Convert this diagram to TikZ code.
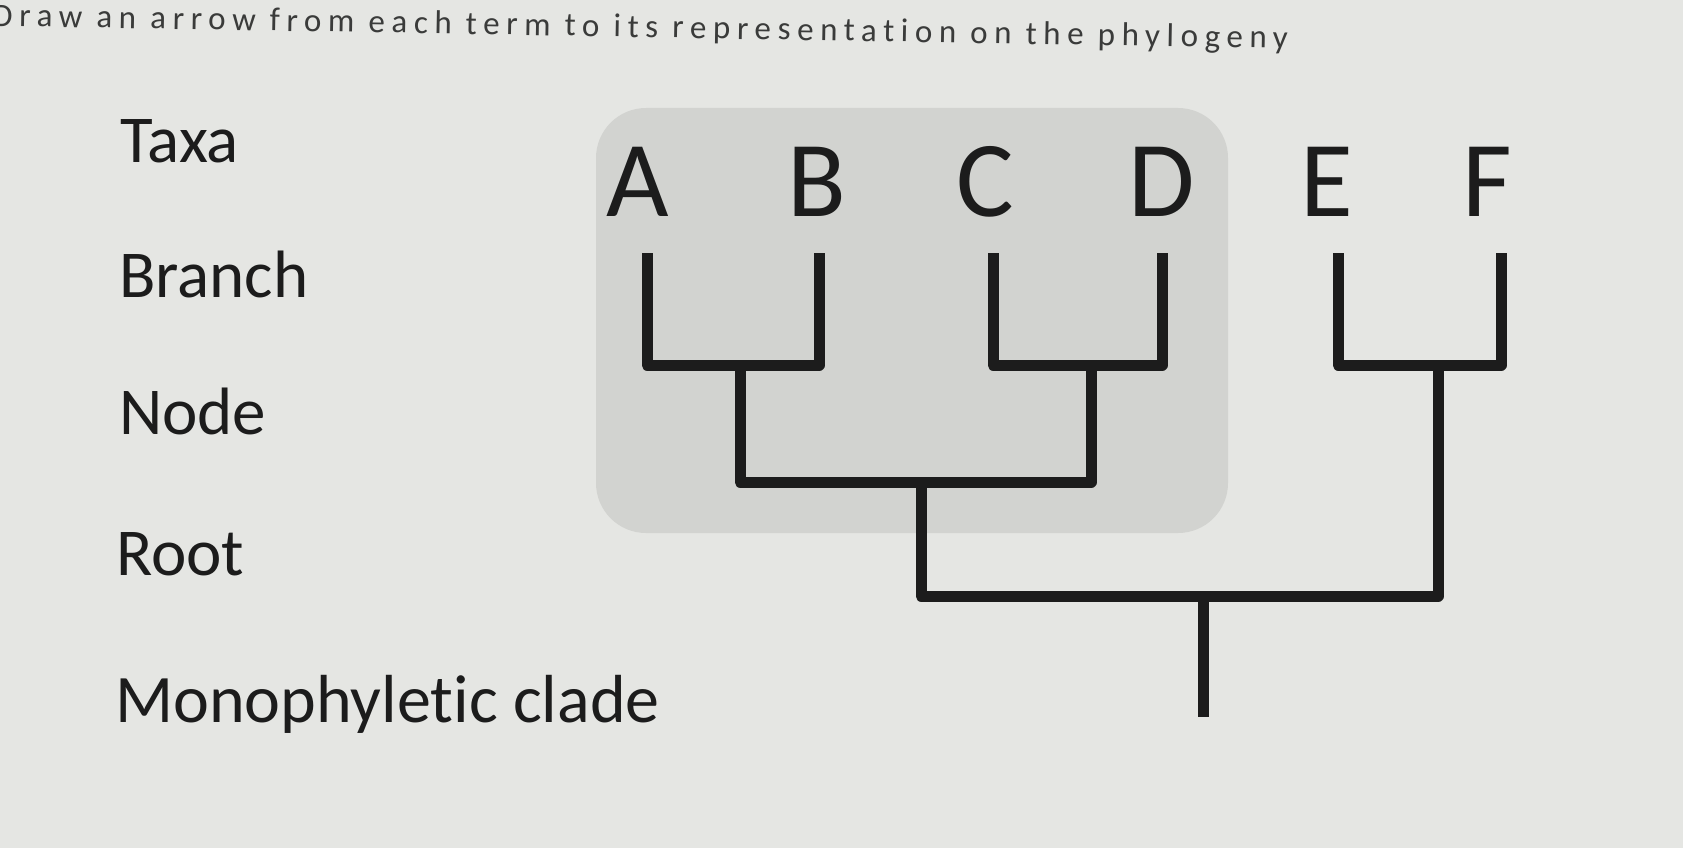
\documentclass[tikz,border=0pt]{standalone}
\usepackage{fontspec}
\setmainfont{Carlito}[Ligatures=NoCommon]
\newfontfamily\spacedfont{Carlito}[LetterSpace=20, Ligatures=NoCommon]
\usetikzlibrary{positioning}
\definecolor{paper}{HTML}{E5E6E3}
\definecolor{cladebg}{HTML}{D2D3D0}
\definecolor{ink}{HTML}{1C1C1C}
\definecolor{printgray}{HTML}{3A3B3A}

\begin{document}
\begin{tikzpicture}[
    x=1pt, y=-1pt,
    term/.style={anchor=base west, inner sep=0pt, text=ink, font=\fontsize{67}{72}\selectfont},
    taxon/.style={anchor=base, inner sep=0pt, text=ink, font=\fontsize{108}{120}\selectfont},
    branch/.style={ink, line width=11pt, line join=round}
  ]
    \fill[paper] (0,0) rectangle (1683,848);
    \useasboundingbox (0,0) rectangle (1683,848);
    % shaded clade A--D
    \fill[cladebg, rounded corners=50pt] (596,108) rectangle (1228,533);

    \node[anchor=base west, inner sep=0pt, rotate=-1.0, text=printgray,
      font=\spacedfont\fontsize{33}{38}\selectfont] (title) at (-8,26)
      {Draw an arrow from each term to its representation on the phylogeny};

    % terms
    \node[term] (taxa) at (120,162) {Taxa};
    \node[term] (branchlbl) at (119,297) {Branch};
    \node[term] (nodelbl) at (119,434) {Node};
    \node[term] (rootlbl) at (116,575) {Root};
    \node[term, font=\fontsize{68}{74}\selectfont] (clade) at (115,722) {Monophyletic clade};

    % taxa
    \node[taxon] (A) at (638,216) {A};
    \node[taxon] (B) at (817,216) {B};
    \node[taxon] (C) at (985,216) {C};
    \node[taxon] (D) at (1162,216) {D};
    \node[taxon] (E) at (1327,216) {E};
    \node[taxon] (F) at (1487,216) {F};

    % tips and internal nodes
    \coordinate (tA) at (647,253);
    \coordinate (tB) at (819,253);
    \coordinate (tC) at (993,253);
    \coordinate (tD) at (1162,253);
    \coordinate (tE) at (1338,253);
    \coordinate (tF) at (1501,253);
    \coordinate (nAB) at (740,365);
    \coordinate (nCD) at (1091,365);
    \coordinate (nEF) at (1438,365);
    \coordinate (nABCD) at (921,482);
    \coordinate (root) at (1203,596);
    \coordinate (stem) at (1203,717);

    \draw[branch] (tA) |- (nAB) -| (tB);
    \draw[branch] (tC) |- (nCD) -| (tD);
    \draw[branch] (tE) |- (nEF) -| (tF);
    \draw[branch] (nAB) |- (nABCD) -| (nCD);
    \draw[branch] (nABCD) |- (root) -| (nEF);
    \draw[branch] (root) -- (stem);
  \end{tikzpicture}
\end{document}
